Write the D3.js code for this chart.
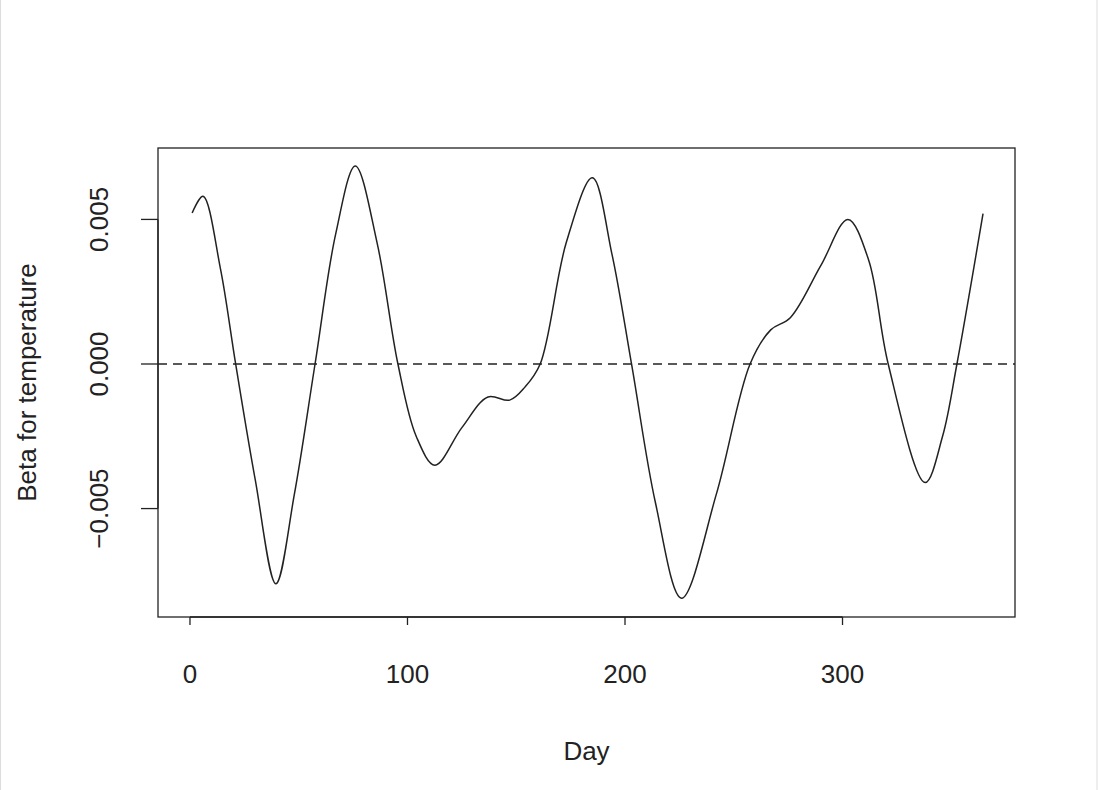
<!DOCTYPE html>
<html>
<head>
<meta charset="utf-8">
<script src="https://cdn.jsdelivr.net/npm/d3@7"></script>
<style>
  body { margin: 0; background: #fff; }
  text { font-family: "Liberation Sans", Arial, sans-serif; fill: #222; }
</style>
</head>
<body>
<svg id="chart" width="1104" height="790"></svg>
<script>
// Estimated curve points (day, beta)
const days  = [1, 6, 14, 21, 30, 39.5, 48, 57.5, 67, 76, 86, 95.6, 104, 112.6, 125, 137, 147, 154, 161, 173, 185, 194, 203, 214, 226, 242, 257.5, 267, 276, 290, 302.5, 312, 321, 338, 346, 352.6, 364.6];
const betas = [0.00522, 0.0058, 0.0033, 0, -0.004, -0.0076, -0.0045, 0, 0.0045, 0.00685, 0.0042, 0, -0.0025, -0.0035, -0.0022, -0.00114, -0.00125, -0.0008, 0, 0.0042, 0.00644, 0.0038, 0, -0.0048, -0.0081, -0.0045, 0, 0.00118, 0.0016, 0.0034, 0.005, 0.0036, 0, -0.0041, -0.0025, 0, 0.0052];
const xTicks = [0, 100, 200, 300];
const yTicks = [-0.005, 0, 0.005];

const svg = d3.select('#chart');

// Frame lines of the screenshot
svg.append('line').attr('x1', 1097).attr('x2', 1097).attr('y1', 0).attr('y2', 790).attr('stroke', '#ddd');
svg.append('line').attr('x1', 0.5).attr('x2', 0.5).attr('y1', 0).attr('y2', 790).attr('stroke', '#ddd');

const pLeft = 158, pRight = 1015, pTop = 148, pBottom = 617;
const x = d3.scaleLinear().domain([-14.7, 379.3]).range([pLeft, pRight]);
const y = d3.scaleLinear().domain([-0.00875, 0.00747]).range([pBottom, pTop]);

// Plot box
svg.append('rect').attr('x', pLeft).attr('y', pTop)
    .attr('width', pRight - pLeft).attr('height', pBottom - pTop)
    .attr('fill', 'none').attr('stroke', '#222').attr('stroke-width', 1.3);

// X axis
const xAxis = svg.append('g').attr('transform', `translate(0,${pBottom})`);
xAxis.append('line').attr('x1', x(0)).attr('x2', x(300)).attr('stroke', '#222').attr('stroke-width', 1.3);
xTicks.forEach(t => {
    xAxis.append('line').attr('x1', x(t)).attr('x2', x(t)).attr('y1', 0).attr('y2', 8).attr('stroke', '#222').attr('stroke-width', 1.3);
    xAxis.append('text').attr('x', x(t)).attr('y', 66).attr('text-anchor', 'middle').attr('font-size', 26).text(t);
});

// Y axis
const yAxis = svg.append('g').attr('transform', `translate(${pLeft},0)`);
yAxis.append('line').attr('y1', y(-0.005)).attr('y2', y(0.005)).attr('stroke', '#222').attr('stroke-width', 1.3);
yTicks.forEach(t => {
    yAxis.append('line').attr('x1', 0).attr('x2', -17).attr('y1', y(t)).attr('y2', y(t)).attr('stroke', '#222').attr('stroke-width', 1.3);
    yAxis.append('text').attr('transform', `translate(-50,${y(t)}) rotate(-90)`)
        .attr('text-anchor', 'middle').attr('font-size', 26).text(d3.format('.3f')(t));
});

// Axis titles
svg.append('text').attr('x', (pLeft + pRight) / 2).attr('y', 760).attr('text-anchor', 'middle').attr('font-size', 26).text('Day');
svg.append('text').attr('transform', `translate(36,${(pTop + pBottom) / 2}) rotate(-90)`)
    .attr('text-anchor', 'middle').attr('font-size', 26).text('Beta for temperature');

// Zero reference line
svg.append('line').attr('x1', pLeft).attr('x2', pRight).attr('y1', y(0)).attr('y2', y(0))
    .attr('stroke', '#222').attr('stroke-width', 1.5).attr('stroke-dasharray', '9,6');

// Curve
const pts = days.map((d, i) => [d, betas[i]]);
const line = d3.line().x(d => x(d[0])).y(d => y(d[1])).curve(d3.curveCatmullRom.alpha(0.5));
svg.append('path').datum(pts).attr('d', line)
    .attr('fill', 'none').attr('stroke', '#222').attr('stroke-width', 1.5);
</script>
</body>
</html>
